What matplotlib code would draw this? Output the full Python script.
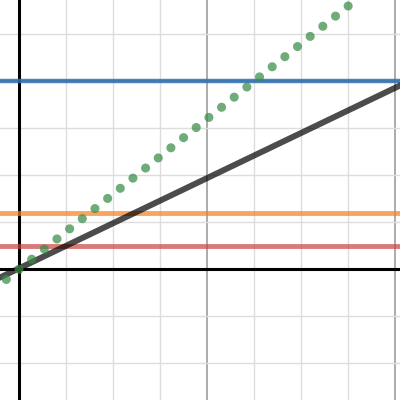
import numpy as np
import matplotlib
matplotlib.use('Agg')
import matplotlib.pyplot as plt

# horizontal levels
blue_y = 4.0
orange_y = 1.2
red_y = 0.5
# straight lines y = m*x + b
black_m, black_b = 0.48, 0.02
green_m, green_b = 0.8, 0.0
dot_step = 0.2692  # x-distance between dots of the dotted line

xlim = (-0.404, 8.106)
ylim = (-2.78, 5.73)

fig = plt.figure(figsize=(4, 4), dpi=100)
ax = fig.add_axes([0, 0, 1, 1])

ax.set_xticks(np.arange(0, 9, 4))
ax.set_xticks(np.arange(-1, 9, 1), minor=True)
ax.set_yticks(np.arange(-4, 8, 4))
ax.set_yticks(np.arange(-3, 6, 1), minor=True)
ax.grid(which='minor', color='#dddddd', lw=1.0)
ax.grid(which='major', color='#959595', lw=1.1)
ax.tick_params(which='both', length=0, labelbottom=False, labelleft=False)
for s in ax.spines.values():
    s.set_visible(False)

ax.axhline(0, color='black', lw=2.2, zorder=2)
ax.axvline(0, color='black', lw=2.2, zorder=2)

ax.axhline(blue_y, color='#2d70b3', lw=3.2, alpha=0.85, zorder=3)
ax.axhline(orange_y, color='#fa7e19', lw=3.5, alpha=0.7, zorder=3)
ax.axhline(red_y, color='#c74440', lw=3.5, alpha=0.7, zorder=3)

xs = np.array([xlim[0] - 0.5, xlim[1] + 0.5])
ax.plot(xs, black_m * xs + black_b, color='black', lw=4.3, alpha=0.7,
        zorder=4, solid_capstyle='butt')

lw = 6.6
gap = dot_step * 47 * np.sqrt(1 + green_m ** 2) * 72 / 100 / lw
gx = np.array([-dot_step, 8.0])
ax.plot(gx, green_m * gx + green_b, color='#388c46', lw=lw, alpha=0.72,
        linestyle=(0, (0.001, gap)), dash_capstyle='round', zorder=5)

ax.set_xlim(xlim)
ax.set_ylim(ylim)

fig.savefig('out.png', dpi=100)
